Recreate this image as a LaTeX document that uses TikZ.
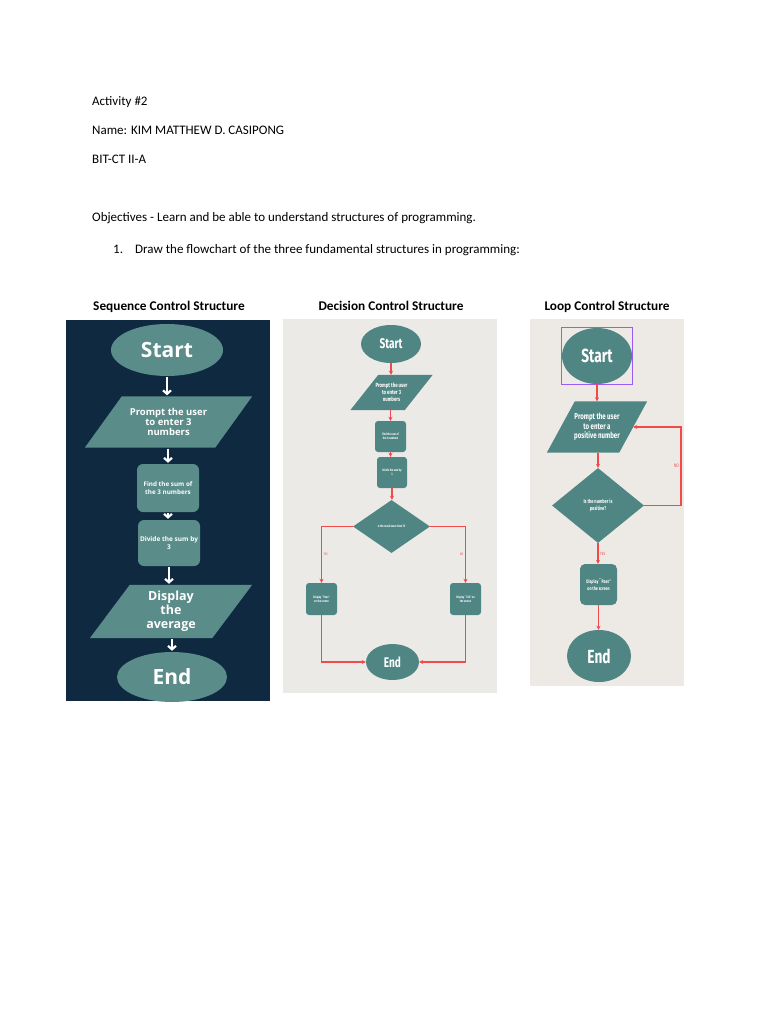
\documentclass[tikz,border=0pt]{standalone}
\usepackage{fontspec}
\setmainfont{Carlito}
\newfontfamily\osans{Open Sans}
\newfontfamily\fsans[FakeStretch=0.72]{Fira Sans}
\usetikzlibrary{shapes.geometric,arrows.meta,calc}
\pgfdeclarelayer{panel}
\pgfdeclarelayer{bg}
\pgfsetlayers{panel,bg,main}
\definecolor{navy}{HTML}{0F2A40}
\definecolor{tealA}{HTML}{5A8C8A}
\definecolor{tealB}{HTML}{4F8683}
\definecolor{paperA}{HTML}{EBEAE7}
\definecolor{paperB}{HTML}{EDEAE6}
\definecolor{redline}{HTML}{F24A4A}
\definecolor{selpurple}{HTML}{9B5CF6}
\newcommand\parafill[3]{%
  \begin{pgfonlayer}{bg}
  \fill[#3] ($(#1.north west)+(#2,0)$) -- ($(#1.north east)+(#2,0)$) -- ($(#1.south east)+(-#2,0)$) -- ($(#1.south west)+(-#2,0)$) -- cycle;
  \end{pgfonlayer}}
\begin{document}
\begin{tikzpicture}[x=1pt,y=-1pt,
  hdr/.style={anchor=base west,inner sep=0,font=\fontsize{13}{15}\selectfont},
  ttl/.style={anchor=base,inner sep=0,font=\bfseries\fontsize{13.3}{15}\selectfont},
  shp/.style={inner sep=0,align=center,text=white},
  sq/.style={shp,fill=tealA,font=\osans\bfseries},
  dc/.style={shp,fill=tealB,font=\fsans\bfseries},
  pa/.style={shp},
  ell/.style={ellipse},
  wArrow/.style={white,line width=2.2pt,-{Straight Barb[length=3.5pt,width=8pt]},shorten <=1pt,shorten >=1pt},
  rArrow/.style={redline,line width=1.1pt,-{Stealth[length=4pt,width=4pt]}},
  rlab/.style={text=redline,inner sep=1.5pt,font=\fsans}
]
\useasboundingbox (0,0) rectangle (768,1024);

% panels
\begin{pgfonlayer}{panel}
\fill[white] (0,0) rectangle (768,1024);
\fill[navy] (66,320) rectangle (270,701);
\fill[paperA] (283,319) rectangle (497,693);
\fill[paperB] (530,319) rectangle (684,686);
\end{pgfonlayer}

% header
\node[hdr] (h1) at (92,106) {Activity \#2};
\node[hdr] (h2) at (92,135) {Name: KIM MATTHEW D. CASIPONG};
\node[hdr] (h3) at (92,164) {BIT-CT II-A};
\node[hdr] (h4) at (92,222) {Objectives - Learn and be able to understand structures of programming.};
\node[hdr] (h5) at (113,253) {1.};
\node[hdr] (h6) at (135,253) {Draw the flowchart of the three fundamental structures in programming:};

\node[ttl] (t1) at (169,310) {Sequence Control Structure};
\node[ttl] (t2) at (391,310) {Decision Control Structure};
\node[ttl] (t3) at (607,310) {Loop Control Structure};

% ---------- Sequence ----------
\node[sq,ell,minimum width=112,minimum height=52,font=\osans\bfseries\fontsize{21}{23}\selectfont] (ss) at (167,350) {Start};
\node[pa,minimum width=130,minimum height=51,font=\osans\bfseries\fontsize{9.5}{10}\selectfont] (sp) at (168.5,422) {Prompt the user\\to enter 3\\numbers};
\parafill{sp}{18.5}{tealA}
\node[sq,rounded corners=6pt,minimum width=62,minimum height=48,font=\osans\bfseries\fontsize{6.3}{8}\selectfont] (sf) at (168,488) {Find the sum of\\the 3 numbers};
\node[sq,rounded corners=6pt,minimum width=62,minimum height=46,font=\osans\bfseries\fontsize{6.5}{8}\selectfont] (sd) at (169,543) {Divide the sum by\\3};
\node[pa,minimum width=122,minimum height=53,font=\osans\bfseries\fontsize{12.5}{14}\selectfont] (sa) at (171,611.5) {Display\\the\\average};
\parafill{sa}{20}{tealA}
\node[sq,ell,minimum width=110,minimum height=50,font=\osans\bfseries\fontsize{21}{23}\selectfont] (se) at (172,677) {End};

\draw[wArrow] (ss.south) -- (ss.south |- sp.north);
\draw[wArrow] (sp.south -| sf.north) -- (sf.north);
\draw[wArrow] (sf.south) -- (sf.south |- sd.north);
\draw[wArrow] (sd.south) -- (sd.south |- sa.north);
\draw[wArrow] (sa.south -| se.north) -- (se.north);

% ---------- Decision ----------
\node[dc,ell,minimum width=60,minimum height=38,font=\fsans\bfseries\fontsize{14}{16}\selectfont] (ds) at (391,344) {Start};
\node[pa,minimum width=54,minimum height=35,font=\fsans\bfseries\fontsize{6}{7}\selectfont] (dp) at (391.5,392.5) {Prompt the user\\to enter 3\\numbers};
\parafill{dp}{14}{tealB}
\node[dc,rounded corners=3pt,minimum width=31,minimum height=31,font=\fsans\bfseries\fontsize{3.3}{4}\selectfont] (df) at (390.5,436.5) {Find the sum of\\the 3 numbers};
\node[dc,rounded corners=3pt,minimum width=30,minimum height=31,font=\fsans\bfseries\fontsize{3.3}{4}\selectfont] (dv) at (392,472.5) {Divide the sum by\\3};
\node[dc,diamond,minimum width=77,minimum height=53,font=\fsans\bfseries\fontsize{3.3}{4}\selectfont] (dd) at (391.5,526.5) {Is the result more than 75};
\node[dc,rounded corners=3pt,minimum width=31,minimum height=32,font=\fsans\bfseries\fontsize{3.3}{4}\selectfont] (dl) at (321.5,599) {Display ``Pass''\\on the screen};
\node[dc,rounded corners=3pt,minimum width=31,minimum height=32,font=\fsans\bfseries\fontsize{3.3}{4}\selectfont] (dr) at (465.5,599) {Display ``Fail'' on\\the screen};
\node[dc,ell,minimum width=53,minimum height=36,font=\fsans\bfseries\fontsize{14}{16}\selectfont] (de) at (392.5,662) {End};

\draw[rArrow] (ds.south) -- (ds.south |- dp.north);
\draw[rArrow] (dp.south -| df.north) -- (df.north);
\draw[rArrow] (df.south) -- (df.south |- dv.north);
\draw[rArrow] (dv.south) -- (dv.south |- dd.north);
\draw[rArrow] (dd.west) -| (dl.north) node[rlab,pos=0.75,right,font=\fsans\fontsize{3.5}{4}\selectfont] {YES};
\draw[rArrow] (dd.east) -| (dr.north) node[rlab,pos=0.75,left,font=\fsans\fontsize{3.5}{4}\selectfont] {NO};
\draw[rArrow] (dl.south) |- (de.west);
\draw[rArrow] (dr.south) |- (de.east);

% ---------- Loop ----------
\node[dc,ell,minimum width=70,minimum height=56,font=\fsans\bfseries\fontsize{19}{21}\selectfont] (ls) at (597,356) {Start};
\draw[selpurple,line width=1.2pt] (ls.west |- ls.north) rectangle (ls.east |- ls.south);
\node[pa,minimum width=72,minimum height=51,font=\fsans\bfseries\fontsize{8.5}{9.7}\selectfont] (lp) at (597,427) {Prompt the user\\to enter a\\positive number};
\parafill{lp}{14}{tealB}
\node[dc,diamond,minimum width=92,minimum height=75,font=\fsans\bfseries\fontsize{5.5}{7}\selectfont] (ld) at (598,505.5) {Is the number is\\positive?};
\node[dc,rounded corners=5pt,minimum width=37,minimum height=41,font=\fsans\bfseries\fontsize{5}{6.5}\selectfont] (lb) at (598.5,584.5) {Display ``Pass''\\on the screen};
\node[dc,ell,minimum width=64,minimum height=52,font=\fsans\bfseries\fontsize{19}{21}\selectfont] (le) at (599,656) {End};
\coordinate (lr) at (681,505.5);

\draw[rArrow] (ls.south) -- (ls.south |- lp.north);
\draw[rArrow] (lp.south -| ld.north) -- (ld.north);
\draw[rArrow] (ld.south) -- (ld.south |- lb.north) node[rlab,pos=0.5,right,font=\fsans\fontsize{4.5}{5}\selectfont] {YES};
\draw[rArrow] (lb.south) -- (lb.south |- le.north);
\draw[rArrow] (ld.east) -- (lr) |- (lp.east) node[rlab,pos=0.25,left,font=\fsans\fontsize{5}{6}\selectfont] {NO};
\end{tikzpicture}
\end{document}
